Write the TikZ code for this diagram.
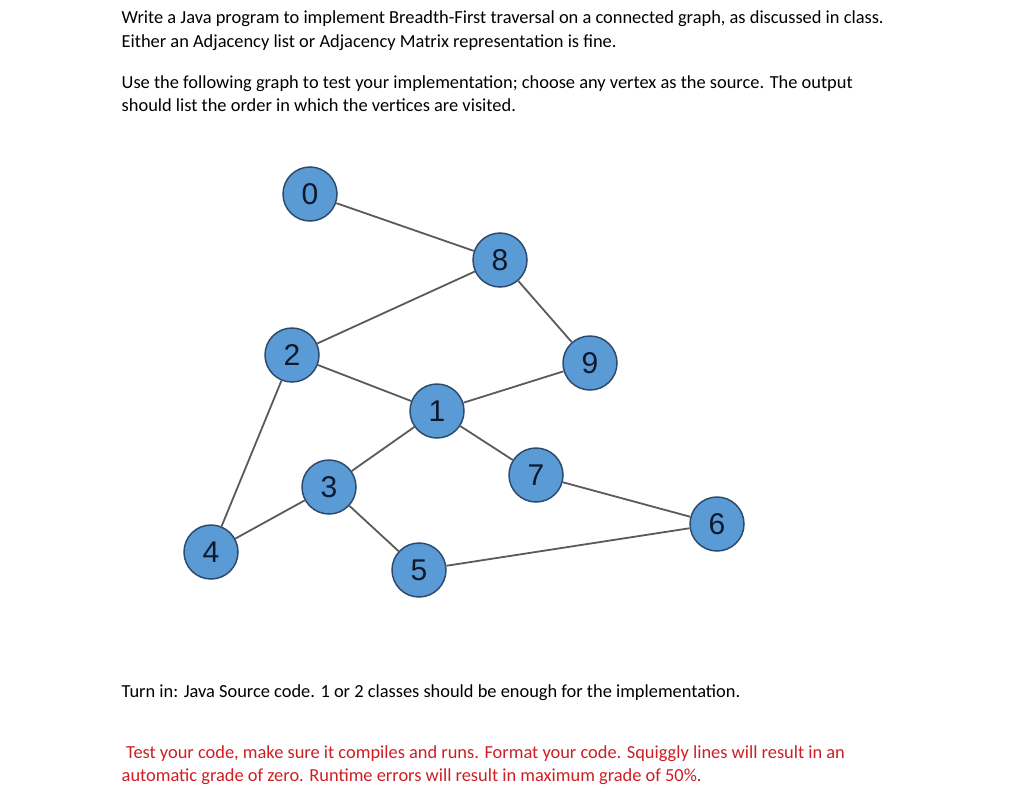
\documentclass[tikz,border=0pt]{standalone}
\usepackage{fontspec}
\setmainfont{Carlito}
\newfontfamily\digitfont{Liberation Sans}
\usetikzlibrary{positioning}

\definecolor{vfill}{RGB}{91,155,213}
\definecolor{vline}{RGB}{45,75,110}
\definecolor{vtext}{RGB}{15,25,45}
\definecolor{eline}{RGB}{90,90,90}
\definecolor{warnred}{RGB}{205,30,35}

\tikzstyle{vertex} = [circle, fill=vfill, draw=vline, line width=1.5pt, minimum size=54pt, inner sep=0pt, text=vtext, font=\digitfont\fontsize{30}{30}\selectfont]
\tikzstyle{edge}   = [draw=eline, line width=1.8pt]
\tikzstyle{para}   = [anchor=base west, inner sep=0pt, font=\fontsize{18.4}{22}\selectfont]

\begin{document}
\begin{tikzpicture}[x=1pt, y=-1pt]
  \useasboundingbox (0,0) rectangle (1024,808);
  % text above and below the graph
  \node[para] (l1) at (121.5,24)  {Write a Java program to implement Breadth-First traversal on a connected graph, as discussed in class.};
  \node[para] (l2) at (121.5,48)  {Either an Adjacency list or Adjacency Matrix representation is fine.};
  \node[para] (l3) at (121.5,88)  {Use the following graph to test your implementation; choose any vertex as the source. The output};
  \node[para] (l4) at (121.5,111) {should list the order in which the vertices are visited.};
  \node[para] (l5) at (121.5,697) {Turn in: Java Source code. 1 or 2 classes should be enough for the implementation.};
  \node[para, text=warnred] (l6) at (126,758) {Test your code, make sure it compiles and runs. Format your code. Squiggly lines will result in an};
  \node[para, text=warnred] (l7) at (121.5,781) {automatic grade of zero. Runtime errors will result in maximum grade of 50\%.};
  % vertices
  \foreach \n/\x/\y in {0/310/194, 8/500/260, 2/292/355, 9/590/363, 1/437/411,
                        7/536/475, 3/329/487, 6/717/524, 4/211/552, 5/419/570}
    \node[vertex] (v\n) at (\x,\y) {\n};
  % edges
  \foreach \a/\b in {0/8, 8/2, 8/9, 2/1, 9/1, 2/4, 1/3, 1/7, 3/4, 3/5, 7/6, 5/6}
    \draw[edge] (v\a) -- (v\b);
\end{tikzpicture}
\end{document}
